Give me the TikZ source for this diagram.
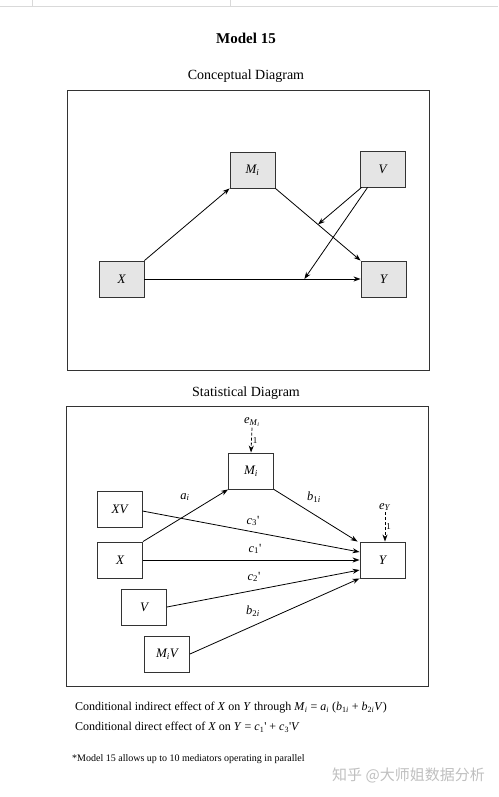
\documentclass[tikz,border=0pt]{standalone}
\usepackage{fontspec}
\setmainfont{Liberation Serif}
\newfontfamily\cjk{Noto Sans CJK SC}
\usetikzlibrary{arrows.meta,calc}
\newcommand{\vi}[1]{\textit{#1}}
\newcommand{\prm}{\textquotesingle}
\tikzset{
  frame/.style={draw=black!80,line width=1pt},
  varbox/.style={draw=black!80,line width=0.9pt,minimum width=45pt,minimum height=36pt,inner sep=0pt,font=\fontsize{13}{15}\selectfont\itshape},
  greybox/.style={varbox,fill=black!10},
  arr/.style={-{Stealth[length=7pt,width=5pt]},line width=0.8pt},
  dasharr/.style={arr,dashed,dash pattern=on 3pt off 2pt},
  lbl/.style={font=\fontsize{12.5}{14}\selectfont,inner sep=1pt}
}
\begin{document}
\begin{tikzpicture}[x=1pt,y=-1pt]
\useasboundingbox (0,0) rectangle (498,797);
\draw[black!15,line width=0.8pt] (0,6) -- (498,6);
\draw[black!15,line width=0.8pt] (32,0) -- (32,6);
\draw[black!15,line width=0.8pt] (230,0) -- (230,6);
\node[font=\fontsize{15}{17}\selectfont\bfseries] (title) at (246,38) {Model 15};
\node[font=\fontsize{14}{16}\selectfont] (ctitle) at (246,76) {Conceptual Diagram};
\draw[frame] (67,91) rectangle (429,370);
\node[greybox] (cM) at (252.5,170) {M\textsubscript{\textit{i}}};
\node[greybox] (cV) at (382.5,169) {V};
\node[greybox] (cX) at (121.5,279) {X};
\node[greybox] (cY) at (383.5,279) {Y};
\draw[arr] (cX.north east) -- (cM.south west);
\draw[arr] (cM.south east) -- (cY.north west);
\draw[arr] (cX) -- (cY);
\draw[arr] ([xshift=2pt]cV.south west) -- ($(cM.south east)!0.5!(cY.north west)$);
\draw[arr] ([xshift=8pt]cV.south west) -- ($(cX.east)!0.74!(cY.west)$);
\node[font=\fontsize{14}{16}\selectfont] (stitle) at (246,393) {Statistical Diagram};
\draw[frame] (66,406) rectangle (428,686);
\node[varbox] (M) at (251,471) {M\textsubscript{\textit{i}}};
\node[varbox] (XV) at (119.5,509) {XV};
\node[varbox] (X) at (120,560) {X};
\node[varbox] (V) at (144,607) {V};
\node[varbox] (MV) at (167,654) {M\textsubscript{\textit{i}}V};
\node[varbox] (Y) at (382.5,560) {Y};
\node[lbl] (eM) at (252,422) {\vi{e}\textsubscript{\vi{M}\textsubscript{\vi{i}}}};
\node[lbl] (eY) at (385,507) {\vi{e}\textsubscript{\vi{Y}}};
\draw[dasharr] (eM.south) -- node[right,lbl,font=\fontsize{9}{10}\selectfont] {1} (M.north);
\draw[dasharr] (eY.south) -- node[right,lbl,font=\fontsize{9}{10}\selectfont] {1} (eY.south |- Y.north);
\draw[arr] (X.north east) -- (M.south west);
\draw[arr] (M.south east) -- ([xshift=-2pt]Y.north west);
\draw[arr] ([yshift=-2pt]XV.east) -- ([yshift=8pt]Y.west);
\draw[arr] (X.east) -- (Y.west);
\draw[arr] (V.east) -- ([yshift=-10pt]Y.west);
\draw[arr] (MV.east) -- (Y.south west);
\node[lbl] (la) at (185,497) {\vi{a}\textsubscript{\vi{i}}};
\node[lbl] (lb1) at (314,497) {\vi{b}\textsubscript{1\vi{i}}};
\node[lbl] (lc3) at (253,521) {\vi{c}\textsubscript{3}\prm};
\node[lbl] (lc1) at (255,549) {\vi{c}\textsubscript{1}\prm};
\node[lbl] (lc2) at (254,577) {\vi{c}\textsubscript{2}\prm};
\node[lbl] (lb2) at (253,611) {\vi{b}\textsubscript{2\vi{i}}};
\node[font=\fontsize{12}{14}\selectfont,anchor=west,inner sep=0pt] (ind) at (75,708) {Conditional indirect effect of \vi{X} on \vi{Y} through \vi{M}\textsubscript{\vi{i}} = \vi{a}\textsubscript{\vi{i}} (\vi{b}\textsubscript{1\vi{i}} + \vi{b}\textsubscript{2\vi{i}}\vi{V})};
\node[font=\fontsize{12}{14}\selectfont,anchor=west,inner sep=0pt] (dir) at (75,727) {Conditional direct effect of \vi{X} on \vi{Y} = \vi{c}\textsubscript{1}\prm{} + \vi{c}\textsubscript{3}\prm\vi{V}};
\node[font=\fontsize{10}{12}\selectfont,anchor=west,inner sep=0pt] (note) at (72,759) {*Model 15 allows up to 10 mediators operating in parallel};
\node[font=\fontsize{15}{17}\selectfont\cjk,text=black!25,anchor=west,inner sep=0pt] (wm) at (332,775) {知乎 @大师姐数据分析};
\end{tikzpicture}
\end{document}
